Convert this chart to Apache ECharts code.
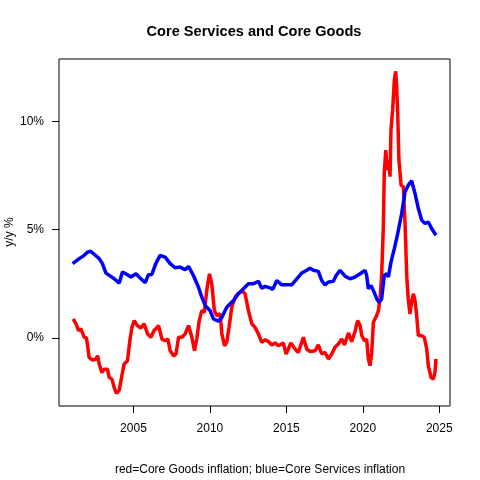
<!DOCTYPE html>
<html>
<head>
<meta charset="utf-8">
<script src="https://cdn.jsdelivr.net/npm/echarts@6/dist/echarts.min.js"></script>
<style>html,body{margin:0;padding:0;background:#fff}#c{width:480px;height:480px}</style>
</head>
<body>
<div id="c"></div>
<script>
// Core Goods inflation (red), y/y %
const goodsYears = [2001.06,2001.24,2001.41,2001.56,2001.78,2001.93,2002.1,2002.32,2002.54,2002.65,2002.76,2002.93,2003.08,2003.3,2003.41,2003.59,2003.74,2003.89,2004.07,2004.24,2004.39,2004.61,2004.76,2004.9,2005.05,2005.26,2005.48,2005.7,2005.92,2006.14,2006.35,2006.5,2006.64,2006.86,2007.07,2007.25,2007.4,2007.62,2007.78,2007.95,2008.17,2008.38,2008.6,2008.82,2008.99,2009.14,2009.3,2009.47,2009.64,2009.79,2009.97,2010.12,2010.29,2010.45,2010.67,2010.78,2010.95,2011.1,2011.25,2011.43,2011.65,2011.86,2012.12,2012.3,2012.52,2012.74,2012.95,2013.17,2013.39,2013.61,2013.83,2014.05,2014.26,2014.48,2014.8,2014.98,2015.13,2015.29,2015.57,2015.78,2016.11,2016.33,2016.55,2016.88,2017.09,2017.31,2017.53,2017.75,2017.97,2018.18,2018.4,2018.62,2018.8,2019.06,2019.27,2019.49,2019.66,2019.82,2019.93,2020.1,2020.25,2020.36,2020.47,2020.58,2020.69,2020.85,2021.02,2021.13,2021.23,2021.34,2021.4,2021.5,2021.6,2021.67,2021.78,2021.84,2021.95,2022.06,2022.15,2022.21,2022.28,2022.36,2022.5,2022.65,2022.76,2022.8,2022.87,2022.97,2023.08,2023.19,2023.3,2023.41,2023.52,2023.63,2023.81,2024.02,2024.18,2024.28,2024.46,2024.61,2024.72,2024.78];
const goodsValues = [0.88,0.65,0.34,0.42,0.03,0.0,-0.9,-1.02,-0.97,-0.82,-1.2,-1.59,-1.44,-1.44,-1.82,-1.9,-2.29,-2.56,-2.41,-1.75,-1.2,-1.05,-0.13,0.49,0.8,0.57,0.46,0.65,0.19,0.03,0.34,0.45,0.57,-0.05,-0.13,-0.05,-0.59,-0.82,-0.74,0.03,0.03,0.19,0.57,0.03,-0.59,-0.05,0.8,1.26,1.19,2.19,2.96,2.5,1.26,1.03,1.11,0.19,-0.36,-0.2,0.49,1.42,1.88,2.06,2.16,2.04,1.26,0.65,0.49,0.19,-0.2,-0.08,-0.17,-0.32,-0.23,-0.36,-0.23,-0.74,-0.51,-0.23,-0.51,-0.67,0.03,-0.51,-0.63,-0.59,-0.32,-0.74,-0.67,-0.97,-0.74,-0.43,-0.28,-0.05,-0.32,0.23,-0.17,0.3,0.8,0.57,0.11,-0.13,-0.05,-0.97,-1.28,-0.67,0.72,0.95,1.26,1.88,2.88,5.1,7.59,8.67,7.75,8.21,7.44,9.6,10.52,11.91,12.3,11.6,10.37,8.21,7.05,6.97,5.28,4.43,2.88,1.8,1.11,1.65,2.04,1.73,1.03,0.11,0.11,0.03,-0.51,-1.28,-1.82,-1.9,-1.59,-0.97];

// Core Services inflation (blue), y/y %
const servicesYears = [2001.02,2001.45,2001.78,2002.0,2002.2,2002.43,2002.76,2002.97,2003.2,2003.52,2003.74,2004.07,2004.28,2004.5,2004.83,2005.16,2005.48,2005.77,2005.98,2006.2,2006.46,2006.74,2007.07,2007.4,2007.72,2008.05,2008.38,2008.6,2008.92,2009.25,2009.47,2009.69,2010.01,2010.23,2010.56,2010.78,2011.1,2011.54,2011.86,2012.19,2012.52,2012.84,2013.17,2013.39,2013.61,2013.93,2014.11,2014.37,2014.7,2015.03,2015.35,2015.68,2016.01,2016.33,2016.55,2016.77,2017.09,2017.31,2017.53,2017.75,2018.07,2018.25,2018.51,2018.84,2019.16,2019.49,2019.82,2020.14,2020.25,2020.36,2020.53,2020.69,2020.91,2021.06,2021.23,2021.4,2021.56,2021.67,2021.84,2022.06,2022.28,2022.54,2022.76,2022.97,2023.19,2023.41,2023.63,2023.85,2024.07,2024.28,2024.5,2024.78];
const servicesValues = [3.43,3.66,3.81,3.96,4.0,3.86,3.66,3.43,2.99,2.84,2.73,2.53,3.04,2.96,2.81,2.96,2.73,2.55,2.92,2.93,3.43,3.81,3.73,3.43,3.24,3.27,3.15,3.3,2.88,2.34,1.88,1.5,1.26,0.88,0.77,0.95,1.42,1.73,2.04,2.27,2.5,2.5,2.61,2.3,2.38,2.31,2.24,2.65,2.45,2.45,2.45,2.73,3.0,3.12,3.22,3.12,3.07,2.65,2.45,2.58,2.61,2.88,3.12,2.85,2.73,2.81,2.96,3.12,2.88,2.27,2.42,2.19,1.8,1.65,1.8,2.88,2.96,2.81,3.5,4.12,4.81,5.74,6.74,7.05,7.25,6.67,5.97,5.43,5.28,5.35,5.05,4.74];

const xTicks = [2005, 2010, 2015, 2020, 2025];
const yTicks = [0, 5, 10];

const zip = (xs, ys) => xs.map((x, i) => [x, ys[i]]);
const font = 'Liberation Sans, Arial, sans-serif';

const chart = echarts.init(document.getElementById('c'), null, {renderer: 'canvas'});
chart.setOption({
  animation: false,
  backgroundColor: '#fff',
  grid: {left: 59, right: 30, top: 59, bottom: 74, show: true, borderColor: '#000', borderWidth: 1, outerBoundsMode: 'none'},
  xAxis: {
    type: 'value', min: 2000.13, max: 2025.7,
    splitLine: {show: false},
    axisLine: {show: false, onZero: false},
    axisTick: {show: true, length: 7, customValues: xTicks, lineStyle: {color: '#000'}},
    axisLabel: {customValues: xTicks, margin: 17, color: '#000', fontFamily: font, fontSize: 12, formatter: v => String(v)}
  },
  yAxis: {
    type: 'value', min: -3.14, max: 12.87,
    splitLine: {show: false},
    axisLine: {show: false, onZero: false},
    axisTick: {show: true, length: 7, customValues: yTicks, lineStyle: {color: '#000'}},
    axisLabel: {customValues: yTicks, margin: 15, color: '#000', fontFamily: font, fontSize: 12, formatter: v => v + '%'}
  },
  graphic: [
    {type: 'text', x: 254, y: 24, style: {text: 'Core Services and Core Goods', fill: '#000', font: 'bold 14.6px ' + font, textAlign: 'center'}},
    {type: 'text', x: 260, y: 464, style: {text: 'red=Core Goods inflation; blue=Core Services inflation', fill: '#000', font: '12px ' + font, textAlign: 'center'}},
    {type: 'text', x: 4, y: 232, rotation: Math.PI / 2, style: {text: 'y/y %', fill: '#000', font: '12px ' + font, textAlign: 'center', textVerticalAlign: 'top'}}
  ],
  series: [
    {type: 'line', data: zip(goodsYears, goodsValues), showSymbol: false, lineStyle: {color: '#ff0000', width: 3.5}, itemStyle: {color: '#ff0000'}},
    {type: 'line', data: zip(servicesYears, servicesValues), showSymbol: false, lineStyle: {color: '#0000ff', width: 3.5}, itemStyle: {color: '#0000ff'}}
  ]
});
</script>
</body>
</html>
